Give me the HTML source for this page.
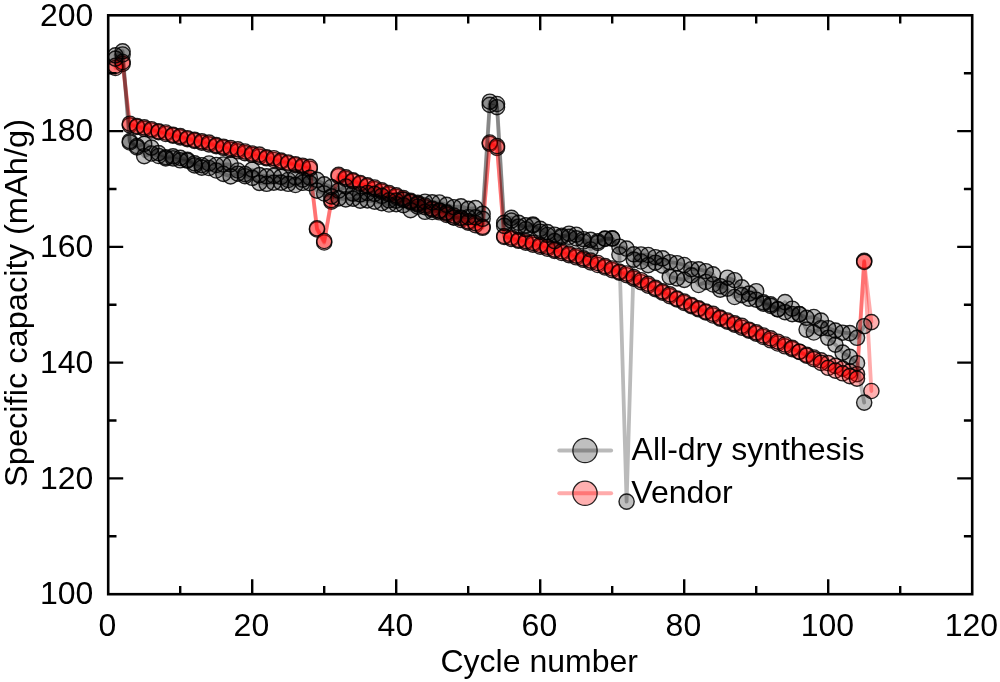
<!DOCTYPE html>
<html lang="en"><head><meta charset="utf-8"><title>Specific capacity vs cycle number</title>
<style>html,body{margin:0;padding:0;background:#fff}body{width:1000px;height:682px;overflow:hidden}svg{display:block}</style></head>
<body>
<svg width="1000" height="682" viewBox="0 0 1000 682">
<rect width="1000" height="682" fill="#fff"/>
<polyline points="115.4,68.0 122.6,63.9 129.8,125.3 137.0,127.0 144.2,128.8 151.4,130.5 158.6,132.2 165.8,134.0 173.0,135.7 180.2,137.4 187.4,139.2 194.6,140.9 201.8,142.7 209.0,144.4 216.2,146.1 223.4,147.9 230.6,149.6 237.8,151.3 245.0,153.1 252.2,154.8 259.4,156.6 266.6,158.3 273.8,160.0 281.0,161.8 288.2,163.5 295.4,165.2 302.6,167.0 309.8,168.7 317.0,229.5 324.2,242.5 331.4,201.7 338.6,176.2 345.8,178.8 353.0,181.4 360.2,184.0 367.4,186.5 374.6,189.1 381.8,191.7 389.0,194.3 396.2,196.8 403.4,199.4 410.6,202.0 417.8,204.6 425.0,207.1 432.2,209.7 439.4,212.3 446.6,214.9 453.8,217.5 461.0,220.0 468.2,222.6 475.4,225.2 482.6,227.8 489.8,143.8 497.0,147.9 504.2,237.0 511.4,238.9 518.6,240.8 525.8,242.7 533.0,244.7 540.2,246.6 547.4,248.7 554.6,250.9 561.8,253.0 569.0,255.1 576.2,257.3 583.4,259.8 590.6,262.4 597.8,265.0 605.0,267.5 612.2,270.1 619.4,272.7 626.6,275.2 633.8,278.7 641.0,282.2 648.2,285.6 655.4,289.1 662.6,292.6 669.8,296.1 677.0,299.5 684.2,303.0 691.4,306.1 698.6,309.3 705.8,312.4 713.0,315.5 720.2,318.6 727.4,321.7 734.6,324.7 741.8,327.7 749.0,330.7 756.2,333.7 763.4,337.0 770.6,340.3 777.8,343.5 785.0,346.3 792.2,349.1 799.4,351.9 806.6,354.7 813.8,357.5 821.0,360.3 828.2,363.1 835.4,365.9 842.6,368.6 849.8,371.4 857.0,374.2 864.2,260.8 871.4,391.0" fill="none" stroke="#f00" stroke-opacity="0.33" stroke-width="3.8" stroke-linejoin="round" stroke-linecap="round"/>
<g fill="#f00" fill-opacity="0.31" stroke="#000" stroke-opacity="0.85" stroke-width="1.4"><circle cx="115.4" cy="68.0" r="7.6"/><circle cx="122.6" cy="63.9" r="7.6"/><circle cx="129.8" cy="125.3" r="7.6"/><circle cx="137.0" cy="127.0" r="7.6"/><circle cx="144.2" cy="128.8" r="7.6"/><circle cx="151.4" cy="130.5" r="7.6"/><circle cx="158.6" cy="132.2" r="7.6"/><circle cx="165.8" cy="134.0" r="7.6"/><circle cx="173.0" cy="135.7" r="7.6"/><circle cx="180.2" cy="137.4" r="7.6"/><circle cx="187.4" cy="139.2" r="7.6"/><circle cx="194.6" cy="140.9" r="7.6"/><circle cx="201.8" cy="142.7" r="7.6"/><circle cx="209.0" cy="144.4" r="7.6"/><circle cx="216.2" cy="146.1" r="7.6"/><circle cx="223.4" cy="147.9" r="7.6"/><circle cx="230.6" cy="149.6" r="7.6"/><circle cx="237.8" cy="151.3" r="7.6"/><circle cx="245.0" cy="153.1" r="7.6"/><circle cx="252.2" cy="154.8" r="7.6"/><circle cx="259.4" cy="156.6" r="7.6"/><circle cx="266.6" cy="158.3" r="7.6"/><circle cx="273.8" cy="160.0" r="7.6"/><circle cx="281.0" cy="161.8" r="7.6"/><circle cx="288.2" cy="163.5" r="7.6"/><circle cx="295.4" cy="165.2" r="7.6"/><circle cx="302.6" cy="167.0" r="7.6"/><circle cx="309.8" cy="168.7" r="7.6"/><circle cx="317.0" cy="229.5" r="7.6"/><circle cx="324.2" cy="242.5" r="7.6"/><circle cx="331.4" cy="201.7" r="7.6"/><circle cx="338.6" cy="176.2" r="7.6"/><circle cx="345.8" cy="178.8" r="7.6"/><circle cx="353.0" cy="181.4" r="7.6"/><circle cx="360.2" cy="184.0" r="7.6"/><circle cx="367.4" cy="186.5" r="7.6"/><circle cx="374.6" cy="189.1" r="7.6"/><circle cx="381.8" cy="191.7" r="7.6"/><circle cx="389.0" cy="194.3" r="7.6"/><circle cx="396.2" cy="196.8" r="7.6"/><circle cx="403.4" cy="199.4" r="7.6"/><circle cx="410.6" cy="202.0" r="7.6"/><circle cx="417.8" cy="204.6" r="7.6"/><circle cx="425.0" cy="207.1" r="7.6"/><circle cx="432.2" cy="209.7" r="7.6"/><circle cx="439.4" cy="212.3" r="7.6"/><circle cx="446.6" cy="214.9" r="7.6"/><circle cx="453.8" cy="217.5" r="7.6"/><circle cx="461.0" cy="220.0" r="7.6"/><circle cx="468.2" cy="222.6" r="7.6"/><circle cx="475.4" cy="225.2" r="7.6"/><circle cx="482.6" cy="227.8" r="7.6"/><circle cx="489.8" cy="143.8" r="7.6"/><circle cx="497.0" cy="147.9" r="7.6"/><circle cx="504.2" cy="237.0" r="7.6"/><circle cx="511.4" cy="238.9" r="7.6"/><circle cx="518.6" cy="240.8" r="7.6"/><circle cx="525.8" cy="242.7" r="7.6"/><circle cx="533.0" cy="244.7" r="7.6"/><circle cx="540.2" cy="246.6" r="7.6"/><circle cx="547.4" cy="248.7" r="7.6"/><circle cx="554.6" cy="250.9" r="7.6"/><circle cx="561.8" cy="253.0" r="7.6"/><circle cx="569.0" cy="255.1" r="7.6"/><circle cx="576.2" cy="257.3" r="7.6"/><circle cx="583.4" cy="259.8" r="7.6"/><circle cx="590.6" cy="262.4" r="7.6"/><circle cx="597.8" cy="265.0" r="7.6"/><circle cx="605.0" cy="267.5" r="7.6"/><circle cx="612.2" cy="270.1" r="7.6"/><circle cx="619.4" cy="272.7" r="7.6"/><circle cx="626.6" cy="275.2" r="7.6"/><circle cx="633.8" cy="278.7" r="7.6"/><circle cx="641.0" cy="282.2" r="7.6"/><circle cx="648.2" cy="285.6" r="7.6"/><circle cx="655.4" cy="289.1" r="7.6"/><circle cx="662.6" cy="292.6" r="7.6"/><circle cx="669.8" cy="296.1" r="7.6"/><circle cx="677.0" cy="299.5" r="7.6"/><circle cx="684.2" cy="303.0" r="7.6"/><circle cx="691.4" cy="306.1" r="7.6"/><circle cx="698.6" cy="309.3" r="7.6"/><circle cx="705.8" cy="312.4" r="7.6"/><circle cx="713.0" cy="315.5" r="7.6"/><circle cx="720.2" cy="318.6" r="7.6"/><circle cx="727.4" cy="321.7" r="7.6"/><circle cx="734.6" cy="324.7" r="7.6"/><circle cx="741.8" cy="327.7" r="7.6"/><circle cx="749.0" cy="330.7" r="7.6"/><circle cx="756.2" cy="333.7" r="7.6"/><circle cx="763.4" cy="337.0" r="7.6"/><circle cx="770.6" cy="340.3" r="7.6"/><circle cx="777.8" cy="343.5" r="7.6"/><circle cx="785.0" cy="346.3" r="7.6"/><circle cx="792.2" cy="349.1" r="7.6"/><circle cx="799.4" cy="351.9" r="7.6"/><circle cx="806.6" cy="354.7" r="7.6"/><circle cx="813.8" cy="357.5" r="7.6"/><circle cx="821.0" cy="360.3" r="7.6"/><circle cx="828.2" cy="363.1" r="7.6"/><circle cx="835.4" cy="365.9" r="7.6"/><circle cx="842.6" cy="368.6" r="7.6"/><circle cx="849.8" cy="371.4" r="7.6"/><circle cx="857.0" cy="374.2" r="7.6"/><circle cx="864.2" cy="260.8" r="7.6"/><circle cx="871.4" cy="391.0" r="7.6"/></g>
<polyline points="115.4,65.9 122.6,62.0 129.8,123.7 137.0,126.1 144.2,127.3 151.4,129.2 158.6,131.3 165.8,132.5 173.0,134.8 180.2,136.1 187.4,138.2 194.6,139.9 201.8,141.3 209.0,142.6 216.2,145.1 223.4,146.7 230.6,148.0 237.8,149.4 245.0,151.5 252.2,153.5 259.4,154.6 266.6,157.4 273.8,158.2 281.0,160.6 288.2,162.5 295.4,164.2 302.6,165.7 309.8,166.9 317.0,228.4 324.2,241.0 331.4,200.1 338.6,174.9 345.8,177.3 353.0,180.4 360.2,183.0 367.4,185.4 374.6,187.5 381.8,190.3 389.0,193.0 396.2,195.3 403.4,198.0 410.6,200.8 417.8,202.8 425.0,205.5 432.2,208.6 439.4,210.8 446.6,213.4 453.8,215.6 461.0,218.3 468.2,221.4 475.4,223.2 482.6,226.8 489.8,142.5 497.0,146.1 504.2,236.0 511.4,237.5 518.6,239.9 525.8,241.1 533.0,242.9 540.2,245.0 547.4,246.8 554.6,249.6 561.8,251.3 569.0,253.6 576.2,255.7 583.4,258.4 590.6,260.6 597.8,263.0 605.0,266.1 612.2,268.5 619.4,271.7 626.6,273.5 633.8,277.1 641.0,280.2 648.2,283.8 655.4,287.9 662.6,291.3 669.8,294.4 677.0,298.6 684.2,301.6 691.4,305.1 698.6,308.3 705.8,311.5 713.0,313.8 720.2,317.6 727.4,320.5 734.6,323.3 741.8,325.8 749.0,329.7 756.2,332.3 763.4,335.5 770.6,338.4 777.8,341.7 785.0,344.5 792.2,347.9 799.4,351.7 806.6,355.7 813.8,359.1 821.0,362.9 828.2,367.8 835.4,370.6 842.6,373.3 849.8,376.1 857.0,378.6 864.2,261.9 871.4,322.1" fill="none" stroke="#f00" stroke-opacity="0.33" stroke-width="3.8" stroke-linejoin="round" stroke-linecap="round"/>
<g fill="#f00" fill-opacity="0.31" stroke="#000" stroke-opacity="0.85" stroke-width="1.4"><circle cx="115.4" cy="65.9" r="7.6"/><circle cx="122.6" cy="62.0" r="7.6"/><circle cx="129.8" cy="123.7" r="7.6"/><circle cx="137.0" cy="126.1" r="7.6"/><circle cx="144.2" cy="127.3" r="7.6"/><circle cx="151.4" cy="129.2" r="7.6"/><circle cx="158.6" cy="131.3" r="7.6"/><circle cx="165.8" cy="132.5" r="7.6"/><circle cx="173.0" cy="134.8" r="7.6"/><circle cx="180.2" cy="136.1" r="7.6"/><circle cx="187.4" cy="138.2" r="7.6"/><circle cx="194.6" cy="139.9" r="7.6"/><circle cx="201.8" cy="141.3" r="7.6"/><circle cx="209.0" cy="142.6" r="7.6"/><circle cx="216.2" cy="145.1" r="7.6"/><circle cx="223.4" cy="146.7" r="7.6"/><circle cx="230.6" cy="148.0" r="7.6"/><circle cx="237.8" cy="149.4" r="7.6"/><circle cx="245.0" cy="151.5" r="7.6"/><circle cx="252.2" cy="153.5" r="7.6"/><circle cx="259.4" cy="154.6" r="7.6"/><circle cx="266.6" cy="157.4" r="7.6"/><circle cx="273.8" cy="158.2" r="7.6"/><circle cx="281.0" cy="160.6" r="7.6"/><circle cx="288.2" cy="162.5" r="7.6"/><circle cx="295.4" cy="164.2" r="7.6"/><circle cx="302.6" cy="165.7" r="7.6"/><circle cx="309.8" cy="166.9" r="7.6"/><circle cx="317.0" cy="228.4" r="7.6"/><circle cx="324.2" cy="241.0" r="7.6"/><circle cx="331.4" cy="200.1" r="7.6"/><circle cx="338.6" cy="174.9" r="7.6"/><circle cx="345.8" cy="177.3" r="7.6"/><circle cx="353.0" cy="180.4" r="7.6"/><circle cx="360.2" cy="183.0" r="7.6"/><circle cx="367.4" cy="185.4" r="7.6"/><circle cx="374.6" cy="187.5" r="7.6"/><circle cx="381.8" cy="190.3" r="7.6"/><circle cx="389.0" cy="193.0" r="7.6"/><circle cx="396.2" cy="195.3" r="7.6"/><circle cx="403.4" cy="198.0" r="7.6"/><circle cx="410.6" cy="200.8" r="7.6"/><circle cx="417.8" cy="202.8" r="7.6"/><circle cx="425.0" cy="205.5" r="7.6"/><circle cx="432.2" cy="208.6" r="7.6"/><circle cx="439.4" cy="210.8" r="7.6"/><circle cx="446.6" cy="213.4" r="7.6"/><circle cx="453.8" cy="215.6" r="7.6"/><circle cx="461.0" cy="218.3" r="7.6"/><circle cx="468.2" cy="221.4" r="7.6"/><circle cx="475.4" cy="223.2" r="7.6"/><circle cx="482.6" cy="226.8" r="7.6"/><circle cx="489.8" cy="142.5" r="7.6"/><circle cx="497.0" cy="146.1" r="7.6"/><circle cx="504.2" cy="236.0" r="7.6"/><circle cx="511.4" cy="237.5" r="7.6"/><circle cx="518.6" cy="239.9" r="7.6"/><circle cx="525.8" cy="241.1" r="7.6"/><circle cx="533.0" cy="242.9" r="7.6"/><circle cx="540.2" cy="245.0" r="7.6"/><circle cx="547.4" cy="246.8" r="7.6"/><circle cx="554.6" cy="249.6" r="7.6"/><circle cx="561.8" cy="251.3" r="7.6"/><circle cx="569.0" cy="253.6" r="7.6"/><circle cx="576.2" cy="255.7" r="7.6"/><circle cx="583.4" cy="258.4" r="7.6"/><circle cx="590.6" cy="260.6" r="7.6"/><circle cx="597.8" cy="263.0" r="7.6"/><circle cx="605.0" cy="266.1" r="7.6"/><circle cx="612.2" cy="268.5" r="7.6"/><circle cx="619.4" cy="271.7" r="7.6"/><circle cx="626.6" cy="273.5" r="7.6"/><circle cx="633.8" cy="277.1" r="7.6"/><circle cx="641.0" cy="280.2" r="7.6"/><circle cx="648.2" cy="283.8" r="7.6"/><circle cx="655.4" cy="287.9" r="7.6"/><circle cx="662.6" cy="291.3" r="7.6"/><circle cx="669.8" cy="294.4" r="7.6"/><circle cx="677.0" cy="298.6" r="7.6"/><circle cx="684.2" cy="301.6" r="7.6"/><circle cx="691.4" cy="305.1" r="7.6"/><circle cx="698.6" cy="308.3" r="7.6"/><circle cx="705.8" cy="311.5" r="7.6"/><circle cx="713.0" cy="313.8" r="7.6"/><circle cx="720.2" cy="317.6" r="7.6"/><circle cx="727.4" cy="320.5" r="7.6"/><circle cx="734.6" cy="323.3" r="7.6"/><circle cx="741.8" cy="325.8" r="7.6"/><circle cx="749.0" cy="329.7" r="7.6"/><circle cx="756.2" cy="332.3" r="7.6"/><circle cx="763.4" cy="335.5" r="7.6"/><circle cx="770.6" cy="338.4" r="7.6"/><circle cx="777.8" cy="341.7" r="7.6"/><circle cx="785.0" cy="344.5" r="7.6"/><circle cx="792.2" cy="347.9" r="7.6"/><circle cx="799.4" cy="351.7" r="7.6"/><circle cx="806.6" cy="355.7" r="7.6"/><circle cx="813.8" cy="359.1" r="7.6"/><circle cx="821.0" cy="362.9" r="7.6"/><circle cx="828.2" cy="367.8" r="7.6"/><circle cx="835.4" cy="370.6" r="7.6"/><circle cx="842.6" cy="373.3" r="7.6"/><circle cx="849.8" cy="376.1" r="7.6"/><circle cx="857.0" cy="378.6" r="7.6"/><circle cx="864.2" cy="261.9" r="7.6"/><circle cx="871.4" cy="322.1" r="7.6"/></g>
<polyline points="115.4,58.6 122.6,54.5 129.8,142.5 137.0,147.4 144.2,156.2 151.4,153.5 158.6,156.0 165.8,158.4 173.0,158.4 180.2,160.3 187.4,160.7 194.6,165.4 201.8,167.6 209.0,168.0 216.2,170.5 223.4,173.9 230.6,176.4 237.8,173.7 245.0,176.2 252.2,177.8 259.4,182.9 266.6,183.8 273.8,182.7 281.0,182.6 288.2,183.8 295.4,185.0 302.6,182.8 309.8,183.1 317.0,190.6 324.2,193.5 331.4,196.4 338.6,198.4 345.8,199.4 353.0,198.6 360.2,200.7 367.4,200.4 374.6,201.7 381.8,203.2 389.0,204.5 396.2,204.2 403.4,205.2 410.6,210.2 417.8,206.6 425.0,211.8 432.2,212.0 439.4,210.6 446.6,212.3 453.8,217.5 461.0,217.5 468.2,217.2 475.4,217.4 482.6,218.8 489.8,104.9 497.0,107.2 504.2,225.9 511.4,220.6 518.6,222.8 525.8,229.2 533.0,224.5 540.2,231.7 547.4,235.0 554.6,241.1 561.8,235.7 569.0,236.8 576.2,238.4 583.4,239.2 590.6,249.5 597.8,242.9 605.0,238.9 612.2,238.6 619.4,254.5 626.6,501.6 633.8,259.6 641.0,261.5 648.2,265.1 655.4,262.7 662.6,265.7 669.8,276.9 677.0,278.4 684.2,279.9 691.4,275.3 698.6,285.0 705.8,282.0 713.0,284.5 720.2,286.2 727.4,288.6 734.6,297.0 741.8,295.1 749.0,298.6 756.2,299.7 763.4,302.3 770.6,304.4 777.8,309.2 785.0,312.2 792.2,308.7 799.4,314.0 806.6,329.6 813.8,332.5 821.0,328.2 828.2,337.8 835.4,344.6 842.6,352.6 849.8,356.8 857.0,363.2 864.2,402.6" fill="none" stroke="#000" stroke-opacity="0.27" stroke-width="3.8" stroke-linejoin="round" stroke-linecap="round"/>
<g fill="#000" fill-opacity="0.25" stroke="#000" stroke-opacity="0.85" stroke-width="1.4"><circle cx="115.4" cy="58.6" r="7.6"/><circle cx="122.6" cy="54.5" r="7.6"/><circle cx="129.8" cy="142.5" r="7.6"/><circle cx="137.0" cy="147.4" r="7.6"/><circle cx="144.2" cy="156.2" r="7.6"/><circle cx="151.4" cy="153.5" r="7.6"/><circle cx="158.6" cy="156.0" r="7.6"/><circle cx="165.8" cy="158.4" r="7.6"/><circle cx="173.0" cy="158.4" r="7.6"/><circle cx="180.2" cy="160.3" r="7.6"/><circle cx="187.4" cy="160.7" r="7.6"/><circle cx="194.6" cy="165.4" r="7.6"/><circle cx="201.8" cy="167.6" r="7.6"/><circle cx="209.0" cy="168.0" r="7.6"/><circle cx="216.2" cy="170.5" r="7.6"/><circle cx="223.4" cy="173.9" r="7.6"/><circle cx="230.6" cy="176.4" r="7.6"/><circle cx="237.8" cy="173.7" r="7.6"/><circle cx="245.0" cy="176.2" r="7.6"/><circle cx="252.2" cy="177.8" r="7.6"/><circle cx="259.4" cy="182.9" r="7.6"/><circle cx="266.6" cy="183.8" r="7.6"/><circle cx="273.8" cy="182.7" r="7.6"/><circle cx="281.0" cy="182.6" r="7.6"/><circle cx="288.2" cy="183.8" r="7.6"/><circle cx="295.4" cy="185.0" r="7.6"/><circle cx="302.6" cy="182.8" r="7.6"/><circle cx="309.8" cy="183.1" r="7.6"/><circle cx="317.0" cy="190.6" r="7.6"/><circle cx="324.2" cy="193.5" r="7.6"/><circle cx="331.4" cy="196.4" r="7.6"/><circle cx="338.6" cy="198.4" r="7.6"/><circle cx="345.8" cy="199.4" r="7.6"/><circle cx="353.0" cy="198.6" r="7.6"/><circle cx="360.2" cy="200.7" r="7.6"/><circle cx="367.4" cy="200.4" r="7.6"/><circle cx="374.6" cy="201.7" r="7.6"/><circle cx="381.8" cy="203.2" r="7.6"/><circle cx="389.0" cy="204.5" r="7.6"/><circle cx="396.2" cy="204.2" r="7.6"/><circle cx="403.4" cy="205.2" r="7.6"/><circle cx="410.6" cy="210.2" r="7.6"/><circle cx="417.8" cy="206.6" r="7.6"/><circle cx="425.0" cy="211.8" r="7.6"/><circle cx="432.2" cy="212.0" r="7.6"/><circle cx="439.4" cy="210.6" r="7.6"/><circle cx="446.6" cy="212.3" r="7.6"/><circle cx="453.8" cy="217.5" r="7.6"/><circle cx="461.0" cy="217.5" r="7.6"/><circle cx="468.2" cy="217.2" r="7.6"/><circle cx="475.4" cy="217.4" r="7.6"/><circle cx="482.6" cy="218.8" r="7.6"/><circle cx="489.8" cy="104.9" r="7.6"/><circle cx="497.0" cy="107.2" r="7.6"/><circle cx="504.2" cy="225.9" r="7.6"/><circle cx="511.4" cy="220.6" r="7.6"/><circle cx="518.6" cy="222.8" r="7.6"/><circle cx="525.8" cy="229.2" r="7.6"/><circle cx="533.0" cy="224.5" r="7.6"/><circle cx="540.2" cy="231.7" r="7.6"/><circle cx="547.4" cy="235.0" r="7.6"/><circle cx="554.6" cy="241.1" r="7.6"/><circle cx="561.8" cy="235.7" r="7.6"/><circle cx="569.0" cy="236.8" r="7.6"/><circle cx="576.2" cy="238.4" r="7.6"/><circle cx="583.4" cy="239.2" r="7.6"/><circle cx="590.6" cy="249.5" r="7.6"/><circle cx="597.8" cy="242.9" r="7.6"/><circle cx="605.0" cy="238.9" r="7.6"/><circle cx="612.2" cy="238.6" r="7.6"/><circle cx="619.4" cy="254.5" r="7.6"/><circle cx="626.6" cy="501.6" r="7.6"/><circle cx="633.8" cy="259.6" r="7.6"/><circle cx="641.0" cy="261.5" r="7.6"/><circle cx="648.2" cy="265.1" r="7.6"/><circle cx="655.4" cy="262.7" r="7.6"/><circle cx="662.6" cy="265.7" r="7.6"/><circle cx="669.8" cy="276.9" r="7.6"/><circle cx="677.0" cy="278.4" r="7.6"/><circle cx="684.2" cy="279.9" r="7.6"/><circle cx="691.4" cy="275.3" r="7.6"/><circle cx="698.6" cy="285.0" r="7.6"/><circle cx="705.8" cy="282.0" r="7.6"/><circle cx="713.0" cy="284.5" r="7.6"/><circle cx="720.2" cy="286.2" r="7.6"/><circle cx="727.4" cy="288.6" r="7.6"/><circle cx="734.6" cy="297.0" r="7.6"/><circle cx="741.8" cy="295.1" r="7.6"/><circle cx="749.0" cy="298.6" r="7.6"/><circle cx="756.2" cy="299.7" r="7.6"/><circle cx="763.4" cy="302.3" r="7.6"/><circle cx="770.6" cy="304.4" r="7.6"/><circle cx="777.8" cy="309.2" r="7.6"/><circle cx="785.0" cy="312.2" r="7.6"/><circle cx="792.2" cy="308.7" r="7.6"/><circle cx="799.4" cy="314.0" r="7.6"/><circle cx="806.6" cy="329.6" r="7.6"/><circle cx="813.8" cy="332.5" r="7.6"/><circle cx="821.0" cy="328.2" r="7.6"/><circle cx="828.2" cy="337.8" r="7.6"/><circle cx="835.4" cy="344.6" r="7.6"/><circle cx="842.6" cy="352.6" r="7.6"/><circle cx="849.8" cy="356.8" r="7.6"/><circle cx="857.0" cy="363.2" r="7.6"/><circle cx="864.2" cy="402.6" r="7.6"/></g>
<polyline points="115.4,55.4 122.6,51.3 129.8,141.2 137.0,146.0 144.2,143.9 151.4,147.6 158.6,153.1 165.8,157.2 173.0,156.4 180.2,157.9 187.4,159.8 194.6,163.4 201.8,165.2 209.0,163.5 216.2,165.0 223.4,164.5 230.6,164.4 237.8,170.5 245.0,174.1 252.2,169.6 259.4,175.1 266.6,176.3 273.8,175.9 281.0,176.8 288.2,180.0 295.4,177.3 302.6,179.6 309.8,177.7 317.0,179.9 324.2,184.4 331.4,187.0 338.6,190.7 345.8,186.5 353.0,193.7 360.2,194.4 367.4,193.0 374.6,193.9 381.8,195.8 389.0,200.3 396.2,200.6 403.4,199.9 410.6,201.9 417.8,203.9 425.0,201.7 432.2,202.4 439.4,202.5 446.6,204.9 453.8,207.2 461.0,206.3 468.2,208.9 475.4,208.1 482.6,213.9 489.8,101.7 497.0,104.0 504.2,222.9 511.4,217.9 518.6,226.6 525.8,225.3 533.0,225.4 540.2,228.8 547.4,232.1 554.6,234.7 561.8,237.0 569.0,233.7 576.2,234.7 583.4,241.5 590.6,239.9 597.8,241.3 605.0,238.5 612.2,238.3 619.4,246.7 626.6,248.6 633.8,254.3 641.0,254.5 648.2,255.0 655.4,257.2 662.6,258.3 669.8,262.2 677.0,263.2 684.2,265.0 691.4,269.2 698.6,269.4 705.8,271.2 713.0,274.4 720.2,289.6 727.4,277.7 734.6,280.2 741.8,287.4 749.0,293.6 756.2,291.2 763.4,303.7 770.6,305.9 777.8,309.3 785.0,302.1 792.2,314.1 799.4,314.4 806.6,317.8 813.8,317.0 821.0,320.6 828.2,328.2 835.4,330.6 842.6,332.7 849.8,333.1 857.0,337.8 864.2,326.2" fill="none" stroke="#000" stroke-opacity="0.27" stroke-width="3.8" stroke-linejoin="round" stroke-linecap="round"/>
<g fill="#000" fill-opacity="0.25" stroke="#000" stroke-opacity="0.85" stroke-width="1.4"><circle cx="115.4" cy="55.4" r="7.6"/><circle cx="122.6" cy="51.3" r="7.6"/><circle cx="129.8" cy="141.2" r="7.6"/><circle cx="137.0" cy="146.0" r="7.6"/><circle cx="144.2" cy="143.9" r="7.6"/><circle cx="151.4" cy="147.6" r="7.6"/><circle cx="158.6" cy="153.1" r="7.6"/><circle cx="165.8" cy="157.2" r="7.6"/><circle cx="173.0" cy="156.4" r="7.6"/><circle cx="180.2" cy="157.9" r="7.6"/><circle cx="187.4" cy="159.8" r="7.6"/><circle cx="194.6" cy="163.4" r="7.6"/><circle cx="201.8" cy="165.2" r="7.6"/><circle cx="209.0" cy="163.5" r="7.6"/><circle cx="216.2" cy="165.0" r="7.6"/><circle cx="223.4" cy="164.5" r="7.6"/><circle cx="230.6" cy="164.4" r="7.6"/><circle cx="237.8" cy="170.5" r="7.6"/><circle cx="245.0" cy="174.1" r="7.6"/><circle cx="252.2" cy="169.6" r="7.6"/><circle cx="259.4" cy="175.1" r="7.6"/><circle cx="266.6" cy="176.3" r="7.6"/><circle cx="273.8" cy="175.9" r="7.6"/><circle cx="281.0" cy="176.8" r="7.6"/><circle cx="288.2" cy="180.0" r="7.6"/><circle cx="295.4" cy="177.3" r="7.6"/><circle cx="302.6" cy="179.6" r="7.6"/><circle cx="309.8" cy="177.7" r="7.6"/><circle cx="317.0" cy="179.9" r="7.6"/><circle cx="324.2" cy="184.4" r="7.6"/><circle cx="331.4" cy="187.0" r="7.6"/><circle cx="338.6" cy="190.7" r="7.6"/><circle cx="345.8" cy="186.5" r="7.6"/><circle cx="353.0" cy="193.7" r="7.6"/><circle cx="360.2" cy="194.4" r="7.6"/><circle cx="367.4" cy="193.0" r="7.6"/><circle cx="374.6" cy="193.9" r="7.6"/><circle cx="381.8" cy="195.8" r="7.6"/><circle cx="389.0" cy="200.3" r="7.6"/><circle cx="396.2" cy="200.6" r="7.6"/><circle cx="403.4" cy="199.9" r="7.6"/><circle cx="410.6" cy="201.9" r="7.6"/><circle cx="417.8" cy="203.9" r="7.6"/><circle cx="425.0" cy="201.7" r="7.6"/><circle cx="432.2" cy="202.4" r="7.6"/><circle cx="439.4" cy="202.5" r="7.6"/><circle cx="446.6" cy="204.9" r="7.6"/><circle cx="453.8" cy="207.2" r="7.6"/><circle cx="461.0" cy="206.3" r="7.6"/><circle cx="468.2" cy="208.9" r="7.6"/><circle cx="475.4" cy="208.1" r="7.6"/><circle cx="482.6" cy="213.9" r="7.6"/><circle cx="489.8" cy="101.7" r="7.6"/><circle cx="497.0" cy="104.0" r="7.6"/><circle cx="504.2" cy="222.9" r="7.6"/><circle cx="511.4" cy="217.9" r="7.6"/><circle cx="518.6" cy="226.6" r="7.6"/><circle cx="525.8" cy="225.3" r="7.6"/><circle cx="533.0" cy="225.4" r="7.6"/><circle cx="540.2" cy="228.8" r="7.6"/><circle cx="547.4" cy="232.1" r="7.6"/><circle cx="554.6" cy="234.7" r="7.6"/><circle cx="561.8" cy="237.0" r="7.6"/><circle cx="569.0" cy="233.7" r="7.6"/><circle cx="576.2" cy="234.7" r="7.6"/><circle cx="583.4" cy="241.5" r="7.6"/><circle cx="590.6" cy="239.9" r="7.6"/><circle cx="597.8" cy="241.3" r="7.6"/><circle cx="605.0" cy="238.5" r="7.6"/><circle cx="612.2" cy="238.3" r="7.6"/><circle cx="619.4" cy="246.7" r="7.6"/><circle cx="626.6" cy="248.6" r="7.6"/><circle cx="633.8" cy="254.3" r="7.6"/><circle cx="641.0" cy="254.5" r="7.6"/><circle cx="648.2" cy="255.0" r="7.6"/><circle cx="655.4" cy="257.2" r="7.6"/><circle cx="662.6" cy="258.3" r="7.6"/><circle cx="669.8" cy="262.2" r="7.6"/><circle cx="677.0" cy="263.2" r="7.6"/><circle cx="684.2" cy="265.0" r="7.6"/><circle cx="691.4" cy="269.2" r="7.6"/><circle cx="698.6" cy="269.4" r="7.6"/><circle cx="705.8" cy="271.2" r="7.6"/><circle cx="713.0" cy="274.4" r="7.6"/><circle cx="720.2" cy="289.6" r="7.6"/><circle cx="727.4" cy="277.7" r="7.6"/><circle cx="734.6" cy="280.2" r="7.6"/><circle cx="741.8" cy="287.4" r="7.6"/><circle cx="749.0" cy="293.6" r="7.6"/><circle cx="756.2" cy="291.2" r="7.6"/><circle cx="763.4" cy="303.7" r="7.6"/><circle cx="770.6" cy="305.9" r="7.6"/><circle cx="777.8" cy="309.3" r="7.6"/><circle cx="785.0" cy="302.1" r="7.6"/><circle cx="792.2" cy="314.1" r="7.6"/><circle cx="799.4" cy="314.4" r="7.6"/><circle cx="806.6" cy="317.8" r="7.6"/><circle cx="813.8" cy="317.0" r="7.6"/><circle cx="821.0" cy="320.6" r="7.6"/><circle cx="828.2" cy="328.2" r="7.6"/><circle cx="835.4" cy="330.6" r="7.6"/><circle cx="842.6" cy="332.7" r="7.6"/><circle cx="849.8" cy="333.1" r="7.6"/><circle cx="857.0" cy="337.8" r="7.6"/><circle cx="864.2" cy="326.2" r="7.6"/></g>
<rect x="108.2" y="15.3" width="864.0" height="578.9" fill="none" stroke="#000" stroke-width="2.6"/>
<path d="M180.2 594.2v-8.3M180.2 15.3v8.3M252.2 594.2v-15.0M252.2 15.3v15.0M324.2 594.2v-8.3M324.2 15.3v8.3M396.2 594.2v-15.0M396.2 15.3v15.0M468.2 594.2v-8.3M468.2 15.3v8.3M540.2 594.2v-15.0M540.2 15.3v15.0M612.2 594.2v-8.3M612.2 15.3v8.3M684.2 594.2v-15.0M684.2 15.3v15.0M756.2 594.2v-8.3M756.2 15.3v8.3M828.2 594.2v-15.0M828.2 15.3v15.0M900.2 594.2v-8.3M900.2 15.3v8.3M108.2 536.3h8.3M972.2 536.3h-8.3M108.2 478.4h15.0M972.2 478.4h-15.0M108.2 420.5h8.3M972.2 420.5h-8.3M108.2 362.6h15.0M972.2 362.6h-15.0M108.2 304.8h8.3M972.2 304.8h-8.3M108.2 246.9h15.0M972.2 246.9h-15.0M108.2 189.0h8.3M972.2 189.0h-8.3M108.2 131.1h15.0M972.2 131.1h-15.0M108.2 73.2h8.3M972.2 73.2h-8.3" stroke="#000" stroke-width="2.4" fill="none"/>
<g font-family="'Liberation Sans', Arial, sans-serif" font-size="32" fill="#000">
<text x="107.4" y="636.4" text-anchor="middle">0</text>
<text x="251.4" y="636.4" text-anchor="middle">20</text>
<text x="395.4" y="636.4" text-anchor="middle">40</text>
<text x="539.4" y="636.4" text-anchor="middle">60</text>
<text x="683.4" y="636.4" text-anchor="middle">80</text>
<text x="827.4" y="636.4" text-anchor="middle">100</text>
<text x="971.4" y="636.4" text-anchor="middle">120</text>
<text x="93.3" y="604.4" text-anchor="end">100</text>
<text x="93.3" y="488.6" text-anchor="end">120</text>
<text x="93.3" y="372.8" text-anchor="end">140</text>
<text x="93.3" y="257.1" text-anchor="end">160</text>
<text x="93.3" y="141.3" text-anchor="end">180</text>
<text x="93.3" y="25.5" text-anchor="end">200</text>
<text x="539.2" y="672" text-anchor="middle">Cycle number</text>
<text transform="translate(27 303) rotate(-90)" text-anchor="middle" font-size="32" textLength="368" lengthAdjust="spacingAndGlyphs">Specific capacity (mAh/g)</text>
<text x="631.6" y="459.8">All-dry synthesis</text>
<text x="631.3" y="503.2">Vendor</text>
</g>
<line x1="559.3" x2="611.1" y1="450.5" y2="450.5" stroke="#000" stroke-opacity="0.27" stroke-width="4" stroke-linecap="round"/>
<circle cx="585" cy="450.5" r="12.15" fill="#000" fill-opacity="0.25" stroke="#000" stroke-opacity="0.85" stroke-width="1.3"/>
<line x1="559.3" x2="611.1" y1="493.3" y2="493.3" stroke="#f00" stroke-opacity="0.33" stroke-width="4" stroke-linecap="round"/>
<circle cx="585" cy="493.3" r="12.15" fill="#f00" fill-opacity="0.31" stroke="#000" stroke-opacity="0.85" stroke-width="1.3"/>
</svg>
</body></html>
